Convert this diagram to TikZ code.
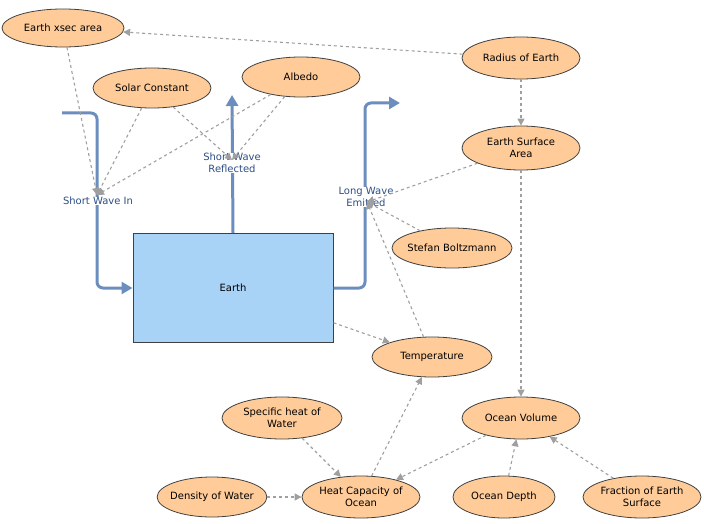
\documentclass[tikz,border=0pt]{standalone}
\usepackage{fontspec}
\setmainfont{DejaVu Sans}
\usetikzlibrary{shapes.geometric,arrows.meta}
\definecolor{nodefill}{HTML}{FFCC99}
\definecolor{flowc}{HTML}{6C8EBF}
\definecolor{lblc}{HTML}{2D4F86}
\definecolor{boxfill}{HTML}{A9D2F7}
\begin{document}
\begin{tikzpicture}[x=1pt,y=-1pt,
  var/.style={ellipse,draw=black!75,fill=nodefill,line width=0.8pt,minimum width=118pt,minimum height=40pt,inner sep=-3pt,align=center,font=\fontsize{10}{12}\selectfont},
  dep/.style={draw=gray!75,dashed,line width=1.1pt,-{Triangle[length=7pt,width=7pt]}},
  flow/.style={draw=flowc,line width=3pt,-{Triangle[length=11pt,width=12pt]},rounded corners=6pt},
  lbl/.style={text=lblc,align=center,font=\fontsize{10}{12}\selectfont,fill=white,inner sep=0.5pt}]
\useasboundingbox (0,0) rectangle (704,524);
\node[draw=black!75,fill=boxfill,line width=1pt,minimum width=200pt,minimum height=109pt,font=\fontsize{10}{12}\selectfont] (earth) at (233,288) {Earth};
\node[var,minimum width=122pt,minimum height=38pt] (xsec) at (63,28) {Earth xsec area};
\node[var,minimum height=42pt] (radius) at (521,58) {Radius of Earth};
\node[var] (solar) at (152,88) {Solar Constant};
\node[var] (albedo) at (301,77) {Albedo};
\node[var,minimum height=44pt] (esa) at (521,148) {Earth Surface\\Area};
\node[var,minimum width=120pt] (stefan) at (452,248) {Stefan Boltzmann};
\node[var,minimum width=120pt] (temp) at (432,357) {Temperature};
\node[var,minimum width=120pt,minimum height=42pt] (spec) at (282,418) {Specific heat of\\Water};
\node[var,minimum height=42pt] (ovol) at (521,418) {Ocean Volume};
\node[var,minimum width=100pt] (dens) at (212,497) {Density of Water};
\node[var,minimum height=42pt] (heat) at (361,497) {Heat Capacity of\\Ocean};
\node[var,minimum width=102pt,minimum height=42pt] (depth) at (504,497) {Ocean Depth};
\node[var,minimum height=42pt] (frac) at (642,497) {Fraction of Earth\\Surface};
% flows
\coordinate (swin0) at (62,113);
\coordinate (swr1) at (232,95);
\coordinate (lw1) at (400,103);
\draw[flow] (swin0) -- (97,113) -- (97,288) -- (earth.west);
\draw[flow] (earth.north) -- (swr1);
\draw[flow] (earth.east |- 0,288) -- (365,288) -- (365,103) -- (lw1);
\node[lbl] (swinl) at (98,201) {Short Wave In};
\node[lbl] (swrl) at (232,163) {Short Wave\\Reflected};
\node[lbl] (lwl) at (366,197) {Long Wave\\Emitted};
\coordinate (vin) at (97,195);
\coordinate (vr) at (232,160);
\coordinate (vl) at (367,202);
% dependencies
\draw[dep] (radius) -- (xsec);
\draw[dep] (xsec) -- (vin);
\draw[dep] (solar) -- (vin);
\draw[dep] (albedo) -- (vin);
\draw[dep] (albedo) -- (vr);
\draw[dep] (solar) -- (vr);
\draw[dep] (radius) -- (esa);
\draw[dep] (esa) -- (vl);
\draw[dep] (stefan) -- (vl);
\draw[dep] (temp) -- (vl);
\draw[dep] (earth) -- (temp);
\draw[dep] (heat) -- (temp);
\draw[dep] (esa) -- (ovol);
\draw[dep] (spec) -- (heat);
\draw[dep] (dens) -- (heat);
\draw[dep] (ovol) -- (heat);
\draw[dep] (depth) -- (ovol);
\draw[dep] (frac) -- (ovol);
\end{tikzpicture}
\end{document}
